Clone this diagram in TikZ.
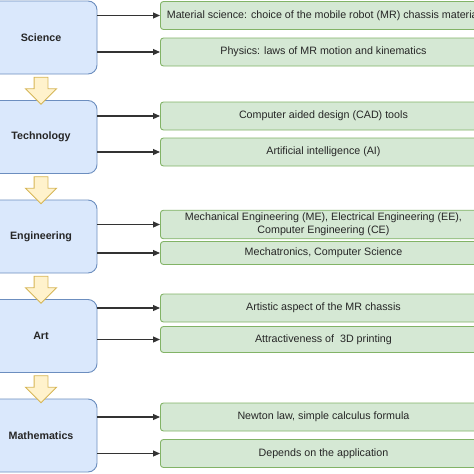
\documentclass[tikz,border=0pt]{standalone}
\usepackage{fontspec}
\setmainfont{Liberation Sans}
\usetikzlibrary{shapes.arrows,arrows.meta}
\definecolor{fieldfill}{HTML}{DAE8FC}
\definecolor{fieldline}{HTML}{6C8EBF}
\definecolor{topicfill}{HTML}{D5E8D4}
\definecolor{topicline}{HTML}{82B366}
\definecolor{downfill}{HTML}{FFF2CC}
\definecolor{downline}{HTML}{D6B656}
\tikzset{
  field/.style={draw=fieldline, fill=fieldfill, line width=0.9pt, rounded corners=9pt,
    minimum width=112pt, minimum height=73pt, text=black!85,
    font=\fontsize{10.7}{12}\selectfont\bfseries},
  topic/.style={draw=topicline, fill=topicfill, line width=0.9pt, rounded corners=3pt,
    anchor=west, minimum width=326pt, minimum height=28pt, inner sep=3pt, align=center,
    text=black!85, font=\fontsize{10.7}{12.6}\selectfont},
  link/.style={-{Triangle[length=7pt,width=6pt]}, line width=1.1pt, draw=black!80},
  down/.style={single arrow, draw=downline, fill=downfill, line width=0.9pt,
    shape border rotate=270, inner sep=6.5pt, minimum height=27pt,
    single arrow head extend=8.5pt}
}
\begin{document}
\begin{tikzpicture}[x=1pt,y=-1pt]
  \useasboundingbox (0,0) rectangle (474,474);
  \clip (0,0) rectangle (474,474);
  % STEAM fields
  \node[field] (sci)  at (41,37.5) {Science};
  \node[field] (tech) at (41,137)  {Technology};
  \node[field] (eng)  at (41,236.5) {Engineering};
  \node[field] (art)  at (41,336)  {Art};
  \node[field] (math) at (41,435.5) {Mathematics};
  \foreach \a/\b in {sci/tech,tech/eng,eng/art,art/math}
    \path (\a.south) -- node[down] (d-\a) {} (\b.north);
  % topics
  \node[topic] (sci1)  at (160,15.5)  {Material science: choice of the mobile robot (MR) chassis material};
  \node[topic] (sci2)  at (160,52)    {Physics: laws of MR motion and kinematics};
  \node[topic] (tech1) at (160,116)   {Computer aided design (CAD) tools};
  \node[topic] (tech2) at (160,152)   {Artificial intelligence (AI)};
  \node[topic] (eng1)  at (160,224.5) {Mechanical Engineering (ME), Electrical Engineering (EE),\\Computer Engineering (CE)};
  \node[topic,minimum height=23pt] (eng2) at (160,253) {Mechatronics, Computer Science};
  \node[topic] (art1)  at (160,308)   {Artistic aspect of the MR chassis};
  \node[topic,minimum height=26pt] (art2) at (160,339.5) {Attractiveness of \ 3D printing};
  \node[topic] (math1) at (160,417)   {Newton law, simple calculus formula};
  \node[topic] (math2) at (160,453.5) {Depends on the application};
  \foreach \f/\t in {sci/sci1,sci/sci2,tech/tech1,tech/tech2,eng/eng1,eng/eng2,
                     art/art1,art/art2,math/math1,math/math2}
    \draw[link] (\f.east |- \t.west) -- (\t.west);
\end{tikzpicture}
\end{document}
